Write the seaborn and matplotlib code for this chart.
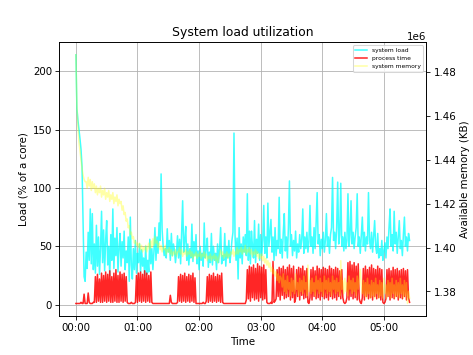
import matplotlib
matplotlib.use("Agg")
import matplotlib.pyplot as plt
import matplotlib.dates as mdates
import seaborn as sns
import numpy as np
import pandas as pd

# one sample per minute, 00:00 .. 05:25
minutes = np.arange(326)

system_load = [
    214, 168, 158, 150, 142, 133, 118, 72, 24, 20,
    45, 31, 62, 38, 82, 35, 78, 30, 52, 27,
    68, 33, 58, 26, 48, 80, 36, 64, 29, 55,
    72, 34, 50, 25, 60, 38, 82, 31, 57, 42,
    66, 28, 48, 61, 33, 54, 40, 63, 30, 46,
    36, 58, 20, 75, 34, 22, 48, 30, 55, 27,
    44, 36, 52, 28, 47, 33, 40, 25, 50, 26,
    38, 28, 56, 35, 48, 30, 45, 66, 38, 58,
    44, 70, 55, 112, 64, 50, 42, 48, 40, 65,
    45, 55, 38, 61, 42, 52, 47, 36, 45, 59,
    40, 56, 35, 62, 89, 45, 55, 67, 38, 52,
    34, 48, 40, 69, 37, 54, 42, 60, 35, 46,
    30, 50, 38, 44, 33, 70, 40, 48, 57, 32,
    45, 36, 61, 34, 50, 38, 44, 30, 52, 36,
    48, 66, 35, 42, 38, 61, 33, 50, 40, 55,
    36, 44, 55, 62, 147, 60, 38, 57, 22, 66,
    40, 52, 35, 58, 45, 60, 42, 95, 38, 63,
    35, 63, 50, 40, 72, 36, 56, 44, 69, 38,
    60, 42, 55, 85, 44, 58, 40, 87, 50, 62,
    73, 45, 58, 38, 66, 42, 55, 48, 92, 44,
    56, 40, 62, 78, 46, 58, 40, 66, 106, 50,
    60, 42, 55, 46, 63, 40, 52, 45, 60, 48,
    56, 82, 44, 58, 48, 62, 45, 54, 85, 50,
    58, 44, 66, 48, 70, 96, 52, 60, 42, 56,
    48, 62, 45, 55, 78, 50, 58, 44, 60, 66,
    109, 55, 62, 48, 66, 105, 52, 60, 104, 50,
    58, 46, 62, 48, 55, 95, 50, 60, 89, 52,
    62, 48, 58, 66, 95, 50, 58, 44, 60, 75,
    50, 62, 46, 58, 52, 96, 55, 48, 62, 45,
    58, 72, 50, 44, 61, 40, 48, 42, 55, 38,
    46, 53, 40, 58, 48, 66, 82, 50, 60, 46,
    80, 52, 62, 44, 58, 72, 48, 55, 42, 60,
    75, 50, 58, 46, 61, 55,
]

process_time = [
    1, 1, 1, 1, 1, 2, 1, 1, 9, 1, 1, 1, 10, 2, 1, 1, 1, 2,
    2, 24, 2, 26, 3, 22, 2, 27, 2, 25, 3, 28,
    2, 26, 3, 29, 2, 24, 2, 27, 3, 30, 2, 25,
    2, 28, 3, 26, 2, 27, 3, 24,
    2, 1, 1, 1, 2, 1, 1, 1,
    2, 25, 2, 27, 3, 28, 2, 26, 3, 29, 2, 27, 3, 25, 2, 28, 2,
    1, 1, 1, 1, 1, 1, 1, 1, 1, 1, 1, 1, 1, 1, 1, 1, 1, 8, 2, 1, 1, 1, 1, 1,
    2, 24, 3, 26, 2, 25, 3, 27, 2, 24, 3, 26, 2, 25, 3, 27, 2, 23,
    1, 1, 1, 1, 1, 1, 1, 2, 1, 1,
    3, 24, 2, 26, 3, 25, 2, 27, 3, 24, 2, 26, 3, 25, 2, 27, 2,
    1, 1, 1, 1, 1, 1, 1, 1, 1, 1, 1, 1, 1, 1, 1, 1, 1, 1, 1, 1, 1, 1,
    4, 30, 5, 33, 3, 32, 6, 34, 4, 31, 5, 35, 3, 33, 6, 32, 4, 34, 5, 30,
    2, 1, 1, 1, 2, 1,
    37, 2, 3,
    5, 30, 7, 32, 4, 31, 8, 33, 5, 30, 6, 32, 7, 34, 4, 31, 6, 33,
    2,
    5, 30, 7, 32, 4, 31, 8, 33, 5, 29, 6, 31,
    2, 1,
    6, 30, 4, 32, 7, 29, 5, 33, 6, 31, 4, 30,
    7, 32, 5, 31, 6, 30, 4, 33, 7, 31, 5, 30,
    6, 32, 4, 31, 7, 29, 5, 30, 6,
    2, 1, 2,
    6, 36, 4, 37, 7, 34, 5, 36, 6, 33, 4, 35, 5,
    2, 1,
    6, 31, 4, 33, 7, 30, 5, 32, 6, 34, 4, 31, 7, 30, 5, 33, 6, 31, 4, 30,
    2, 1, 2,
    5, 30, 7, 31, 4, 29, 6, 32, 5, 30, 7, 31, 4, 29, 6, 30, 5, 31, 7, 29, 4, 30, 6, 2,
]

# available memory in thousands of KB
memory_k = [
    1487.8, 1465, 1455, 1448, 1444, 1440, 1436, 1433, 1431, 1430,
    1430, 1427, 1432, 1428, 1431, 1426, 1430, 1427, 1429, 1425,
    1428, 1424, 1427, 1425, 1428, 1423, 1426, 1424, 1427, 1422,
    1425, 1423, 1426, 1421, 1424, 1422, 1425, 1420, 1423, 1421,
    1424, 1419, 1422, 1420, 1421, 1417, 1419, 1415, 1416, 1412,
    1413, 1409, 1410, 1406, 1407, 1404, 1405, 1402, 1403, 1401,
    1402, 1400, 1402, 1399, 1401, 1398, 1400, 1399, 1401, 1398,
    1400, 1402, 1399, 1403, 1400, 1404, 1401, 1405, 1402, 1403,
    1400, 1402, 1399, 1401, 1398, 1400, 1399, 1401, 1397, 1399,
    1398, 1400, 1397, 1399, 1396, 1398, 1397, 1399, 1396, 1398,
    1398, 1400, 1397, 1399, 1396, 1398, 1397, 1399, 1396, 1398,
    1397, 1399, 1396, 1398, 1395, 1397, 1396, 1398, 1395, 1397,
    1396, 1398, 1395, 1397, 1396, 1398, 1395, 1397, 1394, 1396,
    1395, 1397, 1394, 1396, 1395, 1397, 1394, 1396, 1393, 1395,
    1397, 1399, 1396, 1398, 1395, 1397, 1396, 1398, 1395, 1397,
    1396, 1398, 1397, 1399, 1396, 1398, 1397, 1400, 1397, 1399,
    1398, 1400, 1397, 1399, 1398, 1401, 1397, 1399, 1398, 1400,
    1397, 1399, 1396, 1398, 1397, 1399, 1396, 1398, 1395, 1397,
    1395, 1397, 1394, 1396, 1393, 1395, 1392, 1394, 1391, 1393,
    1389, 1391, 1388, 1390, 1387, 1389, 1385, 1388, 1384, 1387,
    1386, 1382, 1388, 1380, 1385, 1379, 1387, 1381, 1384, 1378,
    1386, 1380, 1385, 1379, 1388, 1381, 1384, 1378, 1386, 1380,
    1385, 1379, 1387, 1381, 1384, 1378, 1392, 1380, 1385, 1379,
    1386, 1380, 1384, 1378, 1387, 1381, 1385, 1379, 1386, 1380,
    1384, 1378, 1387, 1381, 1385, 1379, 1386, 1380, 1384, 1378,
    1387, 1381, 1385, 1379, 1386, 1380, 1384, 1378, 1394, 1381,
    1385, 1379, 1386, 1380, 1384, 1378, 1387, 1381, 1385, 1379,
    1386, 1380, 1384, 1378, 1387, 1381, 1385, 1390, 1383, 1379,
    1385, 1378, 1384, 1377, 1386, 1379, 1383, 1377, 1385, 1378,
    1384, 1377, 1386, 1379, 1383, 1377, 1385, 1378, 1384, 1377,
    1386, 1379, 1383, 1377, 1385, 1378, 1384, 1377, 1386, 1379,
    1383, 1377, 1385, 1378, 1384, 1377, 1386, 1379, 1383, 1377,
    1385, 1378, 1384, 1374.5, 1380, 1377,
]

assert len(system_load) == len(minutes), len(system_load)
assert len(process_time) == len(minutes), len(process_time)
assert len(memory_k) == len(minutes), len(memory_k)

df = pd.DataFrame({
    "time": pd.Timestamp("2024-01-01") + pd.to_timedelta(minutes, unit="m"),
    "load": system_load,
    "proc": process_time,
    "mem": np.array(memory_k) * 1000,
})

fig = plt.figure(figsize=(6.4, 4.8))
ax = fig.add_subplot(111)
sns.lineplot(data=df, x="time", y="load", color="cyan", alpha=0.75, estimator=None,
             label="system load", ax=ax, legend=False)
sns.lineplot(data=df, x="time", y="proc", color="red", alpha=0.85, estimator=None,
             label="process time", ax=ax, legend=False)
ax.set_ylabel("Load (% of a core)")
ax.set_xlabel("Time")
ax.grid(True)
ax.xaxis.set_major_locator(mdates.HourLocator())
ax.xaxis.set_major_formatter(mdates.DateFormatter("%H:%M"))

ax2 = ax.twinx()
sns.lineplot(data=df, x="time", y="mem", color="yellow", alpha=0.35, estimator=None,
             label="system memory", ax=ax2, legend=False)
ax2.set_ylabel("Available memory (KB)")

h1, l1 = ax.get_legend_handles_labels()
h2, l2 = ax2.get_legend_handles_labels()
ax2.legend(h1 + h2, l1 + l2, loc="upper right", fontsize="xx-small")

plt.title("System load utilization")
plt.savefig("out.png", dpi=74)
